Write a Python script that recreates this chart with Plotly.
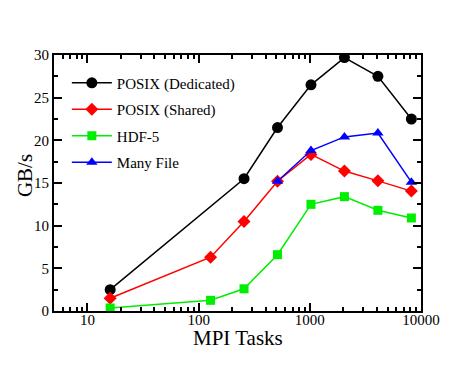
import plotly.graph_objects as go

tasks_all = [16, 128, 256, 512, 1024, 2048, 4096, 8192]
tasks_dedicated = [16, 256, 512, 1024, 2048, 4096, 8192]
tasks_many = [512, 1024, 2048, 4096, 8192]

posix_dedicated = [2.5, 15.5, 21.5, 26.5, 29.7, 27.5, 22.5]
posix_shared = [1.5, 6.3, 10.5, 15.2, 18.35, 16.4, 15.25, 14.05]
hdf5 = [0.35, 1.25, 2.6, 6.6, 12.5, 13.4, 11.8, 10.9]
many_file = [15.2, 18.8, 20.4, 20.85, 15.1]

x_tickvals = [10, 100, 1000, 10000]
x_ticktext = ["10", "100", "1000", "10000"]
x_minor = [m * 10 ** e for e in range(0, 4) for m in range(2, 10) if 5 <= m * 10 ** e <= 10000]

FONT = "Times New Roman, Liberation Serif, serif"

fig = go.Figure()
fig.add_trace(go.Scatter(x=tasks_dedicated, y=posix_dedicated, name="POSIX (Dedicated)",
                         mode="lines+markers", legendgroup="a",
                         line=dict(color="black", width=1.5),
                         marker=dict(symbol="circle", size=11, color="black")))
fig.add_trace(go.Scatter(x=tasks_all, y=posix_shared, name="POSIX (Shared)",
                         mode="lines+markers", legendgroup="b",
                         line=dict(color="#ff0000", width=1.5),
                         marker=dict(symbol="diamond", size=10, color="#ff0000")))
fig.add_trace(go.Scatter(x=tasks_all, y=hdf5, name="HDF-5",
                         mode="lines+markers", legendgroup="c",
                         line=dict(color="#00ee00", width=1.5),
                         marker=dict(symbol="square", size=9, color="#00ee00")))
fig.add_trace(go.Scatter(x=tasks_many, y=many_file, name="Many File",
                         mode="lines+markers", legendgroup="d",
                         line=dict(color="#0000ff", width=1.5),
                         marker=dict(symbol="triangle-up", size=10, color="#0000ff")))
# invisible trace to carry minor ticks on an overlaid axis
fig.add_trace(go.Scatter(x=[5, 10000], y=[0, 30], xaxis="x2", mode="markers",
                         marker=dict(opacity=0), showlegend=False, hoverinfo="skip"))

fig.update_layout(
    width=474, height=366,
    margin=dict(l=46, r=61, t=47, b=63),
    paper_bgcolor="white", plot_bgcolor="white",
    font=dict(family=FONT, color="black", size=15),
    showlegend=True,
    legend=dict(x=0.035, y=0.955, xanchor="left", yanchor="top",
                bgcolor="rgba(0,0,0,0)", font=dict(size=15, family=FONT),
                tracegroupgap=4, itemwidth=40),
    xaxis=dict(type="log", range=[0.699, 4.0], tickvals=x_tickvals, ticktext=x_ticktext,
               ticks="inside", ticklen=8, tickwidth=1.5, tickcolor="black",
               showline=True, linecolor="black", linewidth=2, mirror="ticks",
               showgrid=False, zeroline=False, ticklabelstandoff=-6,
               tickfont=dict(size=15, family=FONT)),
    xaxis2=dict(type="log", range=[0.699, 4.0], overlaying="x", side="bottom",
                tickvals=x_minor, showticklabels=False, ticks="inside", ticklen=4,
                tickwidth=1.5, tickcolor="black", mirror="ticks", showline=False,
                showgrid=False, zeroline=False),
    yaxis=dict(range=[0, 30], tickvals=[0, 5, 10, 15, 20, 25, 30],
               ticks="inside", ticklen=8, tickwidth=1.5, tickcolor="black",
               minor=dict(ticks="inside", ticklen=4, dtick=2.5, tickcolor="black", tickwidth=1.5),
               showline=True, linecolor="black", linewidth=2, mirror="ticks",
               showgrid=False, zeroline=False,
               tickfont=dict(size=15, family=FONT)),
    annotations=[
        dict(text="MPI Tasks", xref="paper", yref="paper", x=0.501, y=-0.105,
             xanchor="center", yanchor="middle", showarrow=False,
             font=dict(size=21, family=FONT, color="black")),
        dict(text="GB/s", xref="paper", yref="paper", x=-0.079, y=0.527,
             xanchor="center", yanchor="middle", showarrow=False, textangle=-90,
             font=dict(size=21, family=FONT, color="black")),
    ],
)

fig.write_html("out.html")
